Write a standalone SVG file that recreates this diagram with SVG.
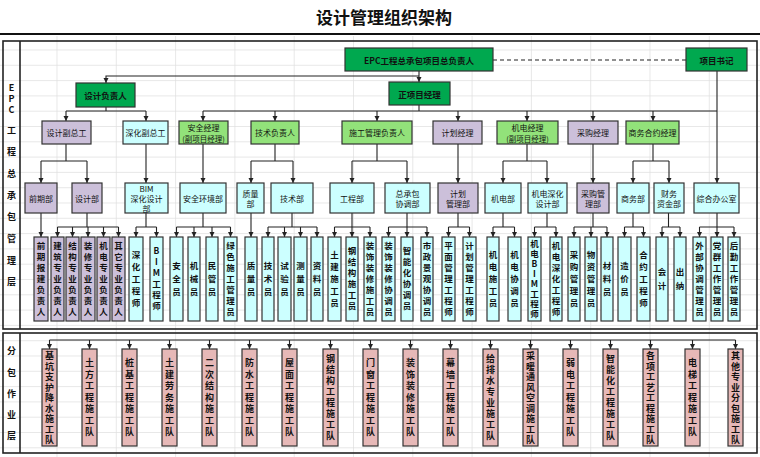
<svg xmlns="http://www.w3.org/2000/svg" width="760" height="457" viewBox="0 0 760 457">
<defs>
<marker id="arr" markerUnits="userSpaceOnUse" markerWidth="6" markerHeight="6" refX="5" refY="2.5" orient="auto"><path d="M0,0 L5,2.5 L0,5 z" fill="#222"/></marker>
<style>
text{font-family:"Noto Sans CJK SC","Noto Sans",sans-serif;fill:#111;text-anchor:middle;dominant-baseline:central}
.title{font-size:17px;font-weight:bold}
.box rect{stroke:#333;stroke-width:1.2}
.g1 rect{fill:#00a84f}
.g2 rect{fill:#92e27a}
.p rect{fill:#ccc0da}
.c rect{fill:#ccffff}
.r rect{fill:#e6b8b7}
.g1 text{font-size:8.5px;font-weight:bold}
.m text{font-size:8px}
.leaf text{font-size:8.5px;font-weight:bold;writing-mode:vertical-rl;text-orientation:upright}
.bl text{font-size:9px;font-weight:bold;writing-mode:vertical-rl;text-orientation:upright}
.s7{letter-spacing:2.5px}
.s6{letter-spacing:2.5px}
.s5{letter-spacing:3.5px}
.s3{letter-spacing:4.5px}
.s2{letter-spacing:5.5px}
.s8{letter-spacing:1.5px}
.b9{letter-spacing:1.5px}
.b8{letter-spacing:2px}
.b7{letter-spacing:2.5px}
.side{font-size:9px;font-weight:bold;writing-mode:vertical-rl;text-orientation:upright}
.conn path{fill:none;stroke:#222;stroke-width:1.1}
.conn .a{marker-end:url(#arr)}
.grid{fill:none;stroke:#dedede;stroke-width:0.7}
.frame{fill:none;stroke:#222;stroke-width:1.6}
</style>
</defs>
<rect width="760" height="457" fill="#fff"/>
<path class="grid" d="M57,36V457M116.3,36V457M175.6,36V457M234.9,36V457M294.2,36V457M353.5,36V457M412.8,36V457M472.1,36V457M531.4,36V457M590.7,36V457M650,36V457M709.3,36V457M0,50H760M0,65.3H760M0,80.6H760M0,95.9H760M0,111.2H760M0,126.5H760M0,141.8H760M0,157.1H760M0,172.4H760M0,187.7H760M0,203H760M0,218.3H760M0,233.6H760M0,248.9H760M0,264.2H760M0,279.5H760M0,294.8H760M0,310.1H760M0,325.4H760M0,340.7H760M0,356H760M0,371.3H760M0,386.6H760M0,401.9H760M0,417.2H760M0,432.5H760M0,447.8H760"/>
<text class="title" x="384" y="16">设计管理组织架构</text>
<path d="M0,34H760" stroke="#111" stroke-width="2"/>
<rect class="frame" x="3" y="41" width="754" height="288"/>
<path class="frame" d="M20,41V329"/>
<rect class="frame" x="3" y="333" width="754" height="120"/>
<path class="frame" d="M20,333V453"/>
<g id="side-upper"><text class="side" x="11.5" y="100" style="letter-spacing:2px">EPC</text><text class="side" x="11.5" y="212.4" style="letter-spacing:12.7px">工程总承包管理层</text></g>
<g id="side-lower"><text class="side" x="11.5" y="399.6" style="letter-spacing:12.25px">分包作业层</text></g>

<g id="connectors" class="conn">
<path d="M493,60H686" stroke-dasharray="4,3"/>
<path class="a" d="M419,71V82"/>
<path class="a" d="M419,76H106V83"/>
<path d="M106,107V111M66,111H146"/>
<path class="a" d="M66,111V121"/><path class="a" d="M146,111V121"/>
<path d="M419,105V111M203,111H717"/>
<path class="a" d="M203,111V121"/><path class="a" d="M275,111V121"/><path class="a" d="M377,111V121"/><path class="a" d="M458,111V121"/><path class="a" d="M527,111V121"/><path class="a" d="M593,111V121"/><path class="a" d="M653,111V121"/>
<path class="a" d="M717,71V183"/>
<path d="M66,144V161M41,161H87"/><path class="a" d="M41,161V183"/><path class="a" d="M87,161V183"/>
<path class="a" d="M146,144V183"/>
<path class="a" d="M203,144V183"/>
<path d="M275,144V161M251,161H293"/><path class="a" d="M251,161V183"/><path class="a" d="M293,161V183"/>
<path d="M377,144V161M352,161H407"/><path class="a" d="M352,161V183"/><path class="a" d="M407,161V183"/>
<path class="a" d="M458,144V183"/>
<path d="M527,144V161M503,161H547"/><path class="a" d="M503,161V183"/><path class="a" d="M547,161V183"/>
<path class="a" d="M593,144V183"/>
<path d="M653,144V161M633,161H669"/><path class="a" d="M633,161V183"/><path class="a" d="M669,161V183"/>
<path class="a" d="M41,213V237"/>
<path d="M87,213V227M57.5,227H118.5"/><path class="a" d="M57.5,227V237"/><path class="a" d="M72.5,227V237"/><path class="a" d="M88,227V237"/><path class="a" d="M103.5,227V237"/><path class="a" d="M118.5,227V237"/>
<path d="M146,213V227M136,227H156.5"/><path class="a" d="M136,227V237"/><path class="a" d="M156.5,227V237"/>
<path d="M203,213V227M176.5,227H230.5"/><path class="a" d="M176.5,227V237"/><path class="a" d="M194,227V237"/><path class="a" d="M212,227V237"/><path class="a" d="M230.5,227V237"/>
<path class="a" d="M251,213V237"/>
<path d="M292,213V227M268,227H317"/><path class="a" d="M268,227V237"/><path class="a" d="M284.5,227V237"/><path class="a" d="M300.5,227V237"/><path class="a" d="M317,227V237"/>
<path d="M352,213V227M334.5,227H370"/><path class="a" d="M334.5,227V237"/><path class="a" d="M352,227V237"/><path class="a" d="M370,227V237"/>
<path d="M407,213V227M388.5,227H427"/><path class="a" d="M388.5,227V237"/><path class="a" d="M407,227V237"/><path class="a" d="M427,227V237"/>
<path d="M458,213V227M448.5,227H469.5"/><path class="a" d="M448.5,227V237"/><path class="a" d="M469.5,227V237"/>
<path d="M503,213V227M493,227H514.5"/><path class="a" d="M493,227V237"/><path class="a" d="M514.5,227V237"/>
<path d="M547,213V227M534.5,227H556"/><path class="a" d="M534.5,227V237"/><path class="a" d="M556,227V237"/>
<path d="M593,213V227M574,227H607"/><path class="a" d="M574,227V237"/><path class="a" d="M591,227V237"/><path class="a" d="M607,227V237"/>
<path d="M633,213V227M624.5,227H643.5"/><path class="a" d="M624.5,227V237"/><path class="a" d="M643.5,227V237"/>
<path d="M668.5,213V227M662,227H680"/><path class="a" d="M662,227V237"/><path class="a" d="M680,227V237"/>
<path d="M717,213V227M699.5,227H734"/><path class="a" d="M699.5,227V237"/><path class="a" d="M717,227V237"/><path class="a" d="M734,227V237"/>
<path d="M49.5,340H735.5"/>
<path class="a" d="M49.5,340V349"/><path class="a" d="M89.5,340V349"/><path class="a" d="M129.5,340V349"/><path class="a" d="M169.5,340V349"/><path class="a" d="M209.5,340V349"/><path class="a" d="M249.5,340V349"/><path class="a" d="M289.5,340V349"/><path class="a" d="M330.5,340V349"/><path class="a" d="M370.5,340V349"/><path class="a" d="M410.5,340V349"/><path class="a" d="M450.5,340V349"/><path class="a" d="M490.5,340V349"/><path class="a" d="M530.5,340V349"/><path class="a" d="M570.5,340V349"/><path class="a" d="M610.5,340V349"/><path class="a" d="M650.5,340V349"/><path class="a" d="M692.5,340V349"/><path class="a" d="M735.5,340V349"/>
</g>

<g id="n-epc" class="box g1"><rect x="345" y="48" width="148" height="23"/><text x="419" y="60">EPC工程总承包项目总负责人</text></g>
<g id="n-shuji" class="box g1"><rect x="686" y="48" width="61" height="23"/><text x="716.5" y="60">项目书记</text></g>
<g id="n-sjfzr" class="box g1"><rect x="76" y="83" width="59" height="24"/><text x="105.5" y="95">设计负责人</text></g>
<g id="n-xmjl" class="box g1"><rect x="389" y="82" width="61" height="23"/><text x="419.5" y="93.5">正项目经理</text></g>

<g id="n-sjfzg" class="box m p"><rect x="42" y="121" width="49" height="23"/><text x="66.5" y="132.5">设计副总工</text></g>
<g id="n-shfzg" class="box m c"><rect x="123" y="121" width="45" height="23"/><text x="145.5" y="132.5">深化副总工</text></g>
<g id="n-aqjl" class="box m g2"><rect x="179" y="121" width="49" height="23"/><text x="203.5" y="127.5">安全经理</text><text x="203.5" y="138" style="font-size:7.5px">(副项目经理)</text></g>
<g id="n-jsfzr" class="box m g2"><rect x="251" y="121" width="48" height="23"/><text x="275" y="132.5">技术负责人</text></g>
<g id="n-sgglfzr" class="box m g2"><rect x="342" y="121" width="70" height="23"/><text x="377" y="132.5">施工管理负责人</text></g>
<g id="n-jhjl" class="box m p"><rect x="433" y="121" width="49" height="23"/><text x="457.5" y="132.5">计划经理</text></g>
<g id="n-jdjl" class="box m g2"><rect x="497" y="121" width="61" height="23"/><text x="527.5" y="127.5">机电经理</text><text x="527.5" y="138" style="font-size:7.5px">(副项目经理)</text></g>
<g id="n-cgjl" class="box m p"><rect x="568" y="121" width="50" height="23"/><text x="593" y="132.5">采购经理</text></g>
<g id="n-swhyjl" class="box m g2"><rect x="626" y="121" width="53" height="23"/><text x="652.5" y="132.5">商务合约经理</text></g>

<g id="n-qqb" class="box m p"><rect x="25" y="183" width="32" height="30"/><text x="41" y="198">前期部</text></g>
<g id="n-sjb" class="box m p"><rect x="72" y="183" width="30" height="30"/><text x="87" y="198">设计部</text></g>
<g id="n-bim" class="box m c"><rect x="125" y="183" width="43" height="30"/><text x="146.5" y="188.5">BIM</text><text x="146.5" y="198.5">深化设计</text><text x="146.5" y="208">部</text></g>
<g id="n-aqhjb" class="box m c"><rect x="180" y="183" width="46" height="30"/><text x="203" y="198">安全环境部</text></g>
<g id="n-zlb" class="box m c"><rect x="237" y="183" width="27" height="30"/><text x="250.5" y="193">质量</text><text x="250.5" y="203.5">部</text></g>
<g id="n-jsb" class="box m c"><rect x="271" y="183" width="42" height="30"/><text x="292" y="198">技术部</text></g>
<g id="n-gcb" class="box m c"><rect x="330" y="183" width="44" height="30"/><text x="352" y="198">工程部</text></g>
<g id="n-zcbxtb" class="box m c"><rect x="385" y="183" width="45" height="30"/><text x="407.5" y="193">总承包</text><text x="407.5" y="203.5">协调部</text></g>
<g id="n-jhglb" class="box m p"><rect x="438" y="183" width="40" height="30"/><text x="458" y="193">计划</text><text x="458" y="203.5">管理部</text></g>
<g id="n-jdb" class="box m c"><rect x="485" y="183" width="36" height="30"/><text x="503" y="198">机电部</text></g>
<g id="n-jdshsjb" class="box m c"><rect x="528" y="183" width="39" height="30"/><text x="547.5" y="193">机电深化</text><text x="547.5" y="203.5">设计部</text></g>
<g id="n-cgglb" class="box m p"><rect x="577" y="183" width="32" height="30"/><text x="593" y="193">采购管</text><text x="593" y="203.5">理部</text></g>
<g id="n-swb" class="box m c"><rect x="617" y="183" width="32" height="30"/><text x="633" y="198">商务部</text></g>
<g id="n-cwzjb" class="box m c"><rect x="654" y="183" width="30" height="30"/><text x="669" y="193">财务</text><text x="669" y="203.5">资金部</text></g>
<g id="n-zhbgs" class="box m c"><rect x="694" y="183" width="45" height="30"/><text x="716.5" y="198">综合办公室</text></g>

<g id="l01" class="box leaf p"><rect x="34" y="237" width="14" height="84"/><text class="s7" x="41" y="280">前期报建负责人</text></g>
<g id="l02" class="box leaf p"><rect x="51" y="237" width="13" height="84"/><text class="s7" x="57.5" y="280">建筑专业负责人</text></g>
<g id="l03" class="box leaf p"><rect x="66" y="237" width="13" height="84"/><text class="s7" x="72.5" y="280">结构专业负责人</text></g>
<g id="l04" class="box leaf p"><rect x="81" y="237" width="14" height="84"/><text class="s7" x="88" y="280">装修专业负责人</text></g>
<g id="l05" class="box leaf p"><rect x="97" y="237" width="13" height="84"/><text class="s7" x="103.5" y="280">机电专业负责人</text></g>
<g id="l06" class="box leaf p"><rect x="112" y="237" width="13" height="84"/><text class="s7" x="118.5" y="280">其它专业负责人</text></g>
<g id="l07" class="box leaf c"><rect x="129" y="237" width="14" height="84"/><text class="s5" x="136" y="281">深化工程师</text></g>
<g id="l08" class="box leaf c"><rect x="150" y="237" width="13" height="84"/><text class="s6" x="156.5" y="280">BIM工程师</text></g>
<g id="l09" class="box leaf c"><rect x="170" y="237" width="13" height="84"/><text class="s3" x="176.5" y="281">安全员</text></g>
<g id="l10" class="box leaf c"><rect x="188" y="237" width="12" height="84"/><text class="s3" x="194" y="281">机械员</text></g>
<g id="l11" class="box leaf c"><rect x="206" y="237" width="12" height="84"/><text class="s3" x="212" y="281">民管员</text></g>
<g id="l12" class="box leaf c"><rect x="224" y="237" width="13" height="84"/><text class="s7" x="230.5" y="280">绿色施工管理员</text></g>
<g id="l13" class="box leaf c"><rect x="245" y="237" width="12" height="84"/><text class="s3" x="251" y="281">质量员</text></g>
<g id="l14" class="box leaf c"><rect x="262" y="237" width="12" height="84"/><text class="s3" x="268" y="281">技术员</text></g>
<g id="l15" class="box leaf c"><rect x="278" y="237" width="13" height="84"/><text class="s3" x="284.5" y="281">试验员</text></g>
<g id="l16" class="box leaf c"><rect x="294" y="237" width="13" height="84"/><text class="s3" x="300.5" y="281">测量员</text></g>
<g id="l17" class="box leaf c"><rect x="311" y="237" width="12" height="84"/><text class="s3" x="317" y="281">资料员</text></g>
<g id="l18" class="box leaf c"><rect x="328" y="237" width="13" height="84"/><text class="s5" x="334.5" y="281">土建施工员</text></g>
<g id="l19" class="box leaf c"><rect x="346" y="237" width="12" height="84"/><text class="s6" x="352" y="280">钢结构施工员</text></g>
<g id="l20" class="box leaf c"><rect x="364" y="237" width="12" height="84"/><text class="s7" x="370" y="280">装饰装修施工员</text></g>
<g id="l21" class="box leaf c"><rect x="382" y="237" width="13" height="84"/><text class="s7" x="388.5" y="280">装饰装修协调员</text></g>
<g id="l22" class="box leaf c"><rect x="401" y="237" width="12" height="84"/><text class="s6" x="407" y="280">智能化协调员</text></g>
<g id="l23" class="box leaf c"><rect x="421" y="237" width="12" height="84"/><text class="s7" x="427" y="280">市政景观协调员</text></g>
<g id="l24" class="box leaf c"><rect x="442" y="237" width="13" height="84"/><text class="s7" x="448.5" y="280">平面管理工程师</text></g>
<g id="l25" class="box leaf c"><rect x="463" y="237" width="13" height="84"/><text class="s7" x="469.5" y="280">计划管理工程师</text></g>
<g id="l26" class="box leaf c"><rect x="487" y="237" width="12" height="84"/><text class="s5" x="493" y="281">机电施工员</text></g>
<g id="l27" class="box leaf c"><rect x="508" y="237" width="13" height="84"/><text class="s5" x="514.5" y="281">机电协调员</text></g>
<g id="l28" class="box leaf c"><rect x="528" y="237" width="13" height="84"/><text class="s8" x="534.5" y="280">机电BIM工程师</text></g>
<g id="l29" class="box leaf c"><rect x="550" y="237" width="12" height="84"/><text class="s7" x="556" y="280">机电深化工程师</text></g>
<g id="l30" class="box leaf c"><rect x="568" y="237" width="12" height="84"/><text class="s5" x="574" y="281">采购管理员</text></g>
<g id="l31" class="box leaf c"><rect x="585" y="237" width="12" height="84"/><text class="s5" x="591" y="281">物资管理员</text></g>
<g id="l32" class="box leaf c"><rect x="601" y="237" width="12" height="84"/><text class="s3" x="607" y="281">材料员</text></g>
<g id="l33" class="box leaf c"><rect x="618" y="237" width="13" height="84"/><text class="s3" x="624.5" y="281">造价员</text></g>
<g id="l34" class="box leaf c"><rect x="637" y="237" width="13" height="84"/><text class="s5" x="643.5" y="281">合约工程师</text></g>
<g id="l35" class="box leaf c"><rect x="656" y="237" width="12" height="84"/><text class="s2" x="662" y="282">会计</text></g>
<g id="l36" class="box leaf c"><rect x="674" y="237" width="12" height="84"/><text class="s2" x="680" y="282">出纳</text></g>
<g id="l37" class="box leaf c"><rect x="693" y="237" width="13" height="84"/><text class="s7" x="699.5" y="280">外部协调管理员</text></g>
<g id="l38" class="box leaf c"><rect x="711" y="237" width="12" height="84"/><text class="s7" x="717" y="280">党群工作管理员</text></g>
<g id="l39" class="box leaf c"><rect x="728" y="237" width="12" height="84"/><text class="s7" x="734" y="280">后勤工作管理员</text></g>

<g id="b01" class="box bl r"><rect x="42" y="349" width="15" height="97"/><text class="b9" x="49.5" y="398.5">基坑支护降水施工队</text></g>
<g id="b02" class="box bl r"><rect x="82" y="349" width="15" height="97"/><text class="b7" x="89.5" y="398.5">土方工程施工队</text></g>
<g id="b03" class="box bl r"><rect x="122" y="349" width="15" height="97"/><text class="b7" x="129.5" y="398.5">桩基工程施工队</text></g>
<g id="b04" class="box bl r"><rect x="162" y="349" width="15" height="97"/><text class="b7" x="169.5" y="398.5">土建劳务施工队</text></g>
<g id="b05" class="box bl r"><rect x="202" y="349" width="15" height="97"/><text class="b7" x="209.5" y="398.5">二次结构施工队</text></g>
<g id="b06" class="box bl r"><rect x="242" y="349" width="15" height="97"/><text class="b7" x="249.5" y="398.5">防水工程施工队</text></g>
<g id="b07" class="box bl r"><rect x="282" y="349" width="15" height="97"/><text class="b7" x="289.5" y="398.5">屋面工程施工队</text></g>
<g id="b08" class="box bl r"><rect x="323" y="349" width="15" height="97"/><text class="b8" x="330.5" y="398.5">钢结构工程施工队</text></g>
<g id="b09" class="box bl r"><rect x="363" y="349" width="15" height="97"/><text class="b7" x="370.5" y="398.5">门窗工程施工队</text></g>
<g id="b10" class="box bl r"><rect x="403" y="349" width="15" height="97"/><text class="b7" x="410.5" y="398.5">装饰装修施工队</text></g>
<g id="b11" class="box bl r"><rect x="443" y="349" width="15" height="97"/><text class="b7" x="450.5" y="398.5">幕墙工程施工队</text></g>
<g id="b12" class="box bl r"><rect x="483" y="349" width="15" height="97"/><text class="b8" x="490.5" y="398.5">给排水专业施工队</text></g>
<g id="b13" class="box bl r"><rect x="523" y="349" width="15" height="97"/><text class="b9" x="530.5" y="398.5">采暖通风空调施工队</text></g>
<g id="b14" class="box bl r"><rect x="563" y="349" width="15" height="97"/><text class="b7" x="570.5" y="398.5">弱电工程施工队</text></g>
<g id="b15" class="box bl r"><rect x="603" y="349" width="15" height="97"/><text class="b8" x="610.5" y="398.5">智能化工程施工队</text></g>
<g id="b16" class="box bl r"><rect x="643" y="349" width="15" height="97"/><text class="b9" x="650.5" y="398.5">各项工艺工程施工队</text></g>
<g id="b17" class="box bl r"><rect x="685" y="349" width="15" height="97"/><text class="b7" x="692.5" y="398.5">电梯工程施工队</text></g>
<g id="b18" class="box bl r"><rect x="728" y="349" width="15" height="97"/><text class="b9" x="735.5" y="398.5">其他专业分包施工队</text></g>
</svg>
